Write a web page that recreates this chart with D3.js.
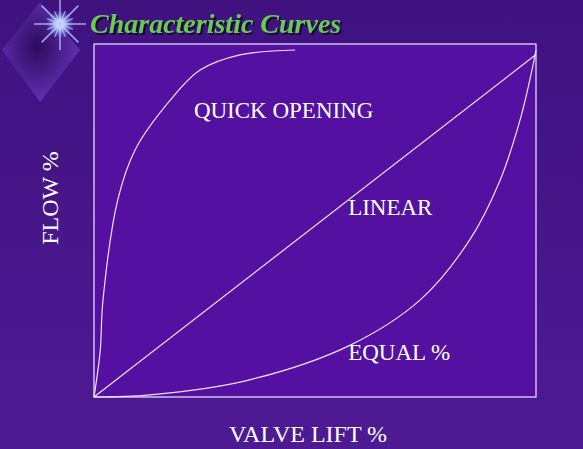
<!DOCTYPE html>
<html><head><meta charset="utf-8">
<script src="https://cdn.jsdelivr.net/npm/d3@7"></script>
<style>body{margin:0;background:#4a168c;}</style>
</head><body>
<script>
// curves: [valve lift %, flow %]
const quickOpening = [[0,0],[1.4,13],[2,27],[5.4,56],[9.3,70],[17.2,84],[24,92.6],[33,96.9],[45.5,98.3]];
const linear = [[0,0],[100,97]];
const equalPct = [[0,0],[12.7,0.6],[35,4.8],[58,14.7],[73.8,27.5],[85,44.5],[91.9,61.5],[96.4,78.5],[98.6,89.8],[100,98.3]];
const labels = [
  {text:'QUICK OPENING', x:22.6, y:79},
  {text:'LINEAR', x:57.5, y:51.5},
  {text:'EQUAL %', x:57.5, y:10.5}
];

const W=583, H=449, box={l:94,t:44,r:536,b:397};
const svg=d3.select('body').append('svg').attr('width',W).attr('height',H);
const defs=svg.append('defs');
const bg=defs.append('linearGradient').attr('id','bg').attr('x1',0).attr('y1',0).attr('x2',0).attr('y2',1);
bg.append('stop').attr('offset',0).attr('stop-color','#3f1280');
bg.append('stop').attr('offset',1).attr('stop-color','#4e1a94');
svg.append('rect').attr('width',W).attr('height',H).attr('fill','url(#bg)');

// diamond + star decoration
const dg=defs.append('radialGradient').attr('id','dg').attr('cx','0.45').attr('cy','0.45').attr('r','0.6');
dg.append('stop').attr('offset',0).attr('stop-color','#2a0a5a');
dg.append('stop').attr('offset',1).attr('stop-color','#6a38c0');
svg.append('path').attr('d','M40,2 L80,50 L40,102 L2,50 Z').attr('fill','url(#dg)').attr('opacity',0.9);
const sg=defs.append('radialGradient').attr('id','sg');
sg.append('stop').attr('offset',0).attr('stop-color','#fff');
sg.append('stop').attr('offset',0.3).attr('stop-color','#c8d8ff');
sg.append('stop').attr('offset',1).attr('stop-color','#6080ff').attr('stop-opacity',0);
svg.append('circle').attr('cx',60).attr('cy',24).attr('r',14).attr('fill','url(#sg)');
[0,45,90,135,22,67,112,157].forEach((a,i)=>{
  const len=i<4?26:14;
  svg.append('line').attr('x1',60-len).attr('y1',24).attr('x2',60+len).attr('y2',24)
    .attr('transform',`rotate(${a},60,24)`).attr('stroke','#c0ccff').attr('stroke-width',i<4?1.5:1).attr('opacity',0.8);
});

svg.append('text').attr('x',90).attr('y',33).text('Characteristic Curves')
  .attr('font-family','Liberation Serif').attr('font-style','italic').attr('font-weight','bold')
  .attr('font-size',28).attr('fill','#66cc55')
  .style('filter','drop-shadow(2px 2px 0 #1a0a30)');

svg.append('rect').attr('x',box.l).attr('y',box.t).attr('width',box.r-box.l).attr('height',box.b-box.t)
  .attr('fill','#5410a0').attr('stroke','#f0e8ff').attr('stroke-width',1.2);

const x=d3.scaleLinear().domain([0,100]).range([box.l,box.r]);
const y=d3.scaleLinear().domain([0,100]).range([box.b,box.t]);
const line=d3.line().x(d=>x(d[0])).y(d=>y(d[1])).curve(d3.curveCatmullRom.alpha(0.5));
svg.append('path').attr('d',line(quickOpening)).attr('fill','none').attr('stroke','#f0e0ff').attr('stroke-width',1.2);
svg.append('path').attr('d',line(linear)).attr('fill','none').attr('stroke','#f0e0ff').attr('stroke-width',1.2);
svg.append('path').attr('d',line(equalPct)).attr('fill','none').attr('stroke','#f0e0ff').attr('stroke-width',1.2);

const font='Liberation Serif';
svg.selectAll('text.lab').data(labels).join('text').attr('class','lab')
  .attr('x',d=>x(d.x)).attr('y',d=>y(d.y)).text(d=>d.text)
  .attr('font-family',font).attr('font-size',23).attr('fill','#fff');
svg.append('text').attr('x',308).attr('y',442).attr('text-anchor','middle').text('VALVE LIFT %')
  .attr('font-family',font).attr('font-size',24).attr('fill','#fff');
svg.append('text').attr('transform','translate(58,198) rotate(-90)').attr('text-anchor','middle').text('FLOW %')
  .attr('font-family',font).attr('font-size',24).attr('fill','#fff');
</script>
</body></html>
